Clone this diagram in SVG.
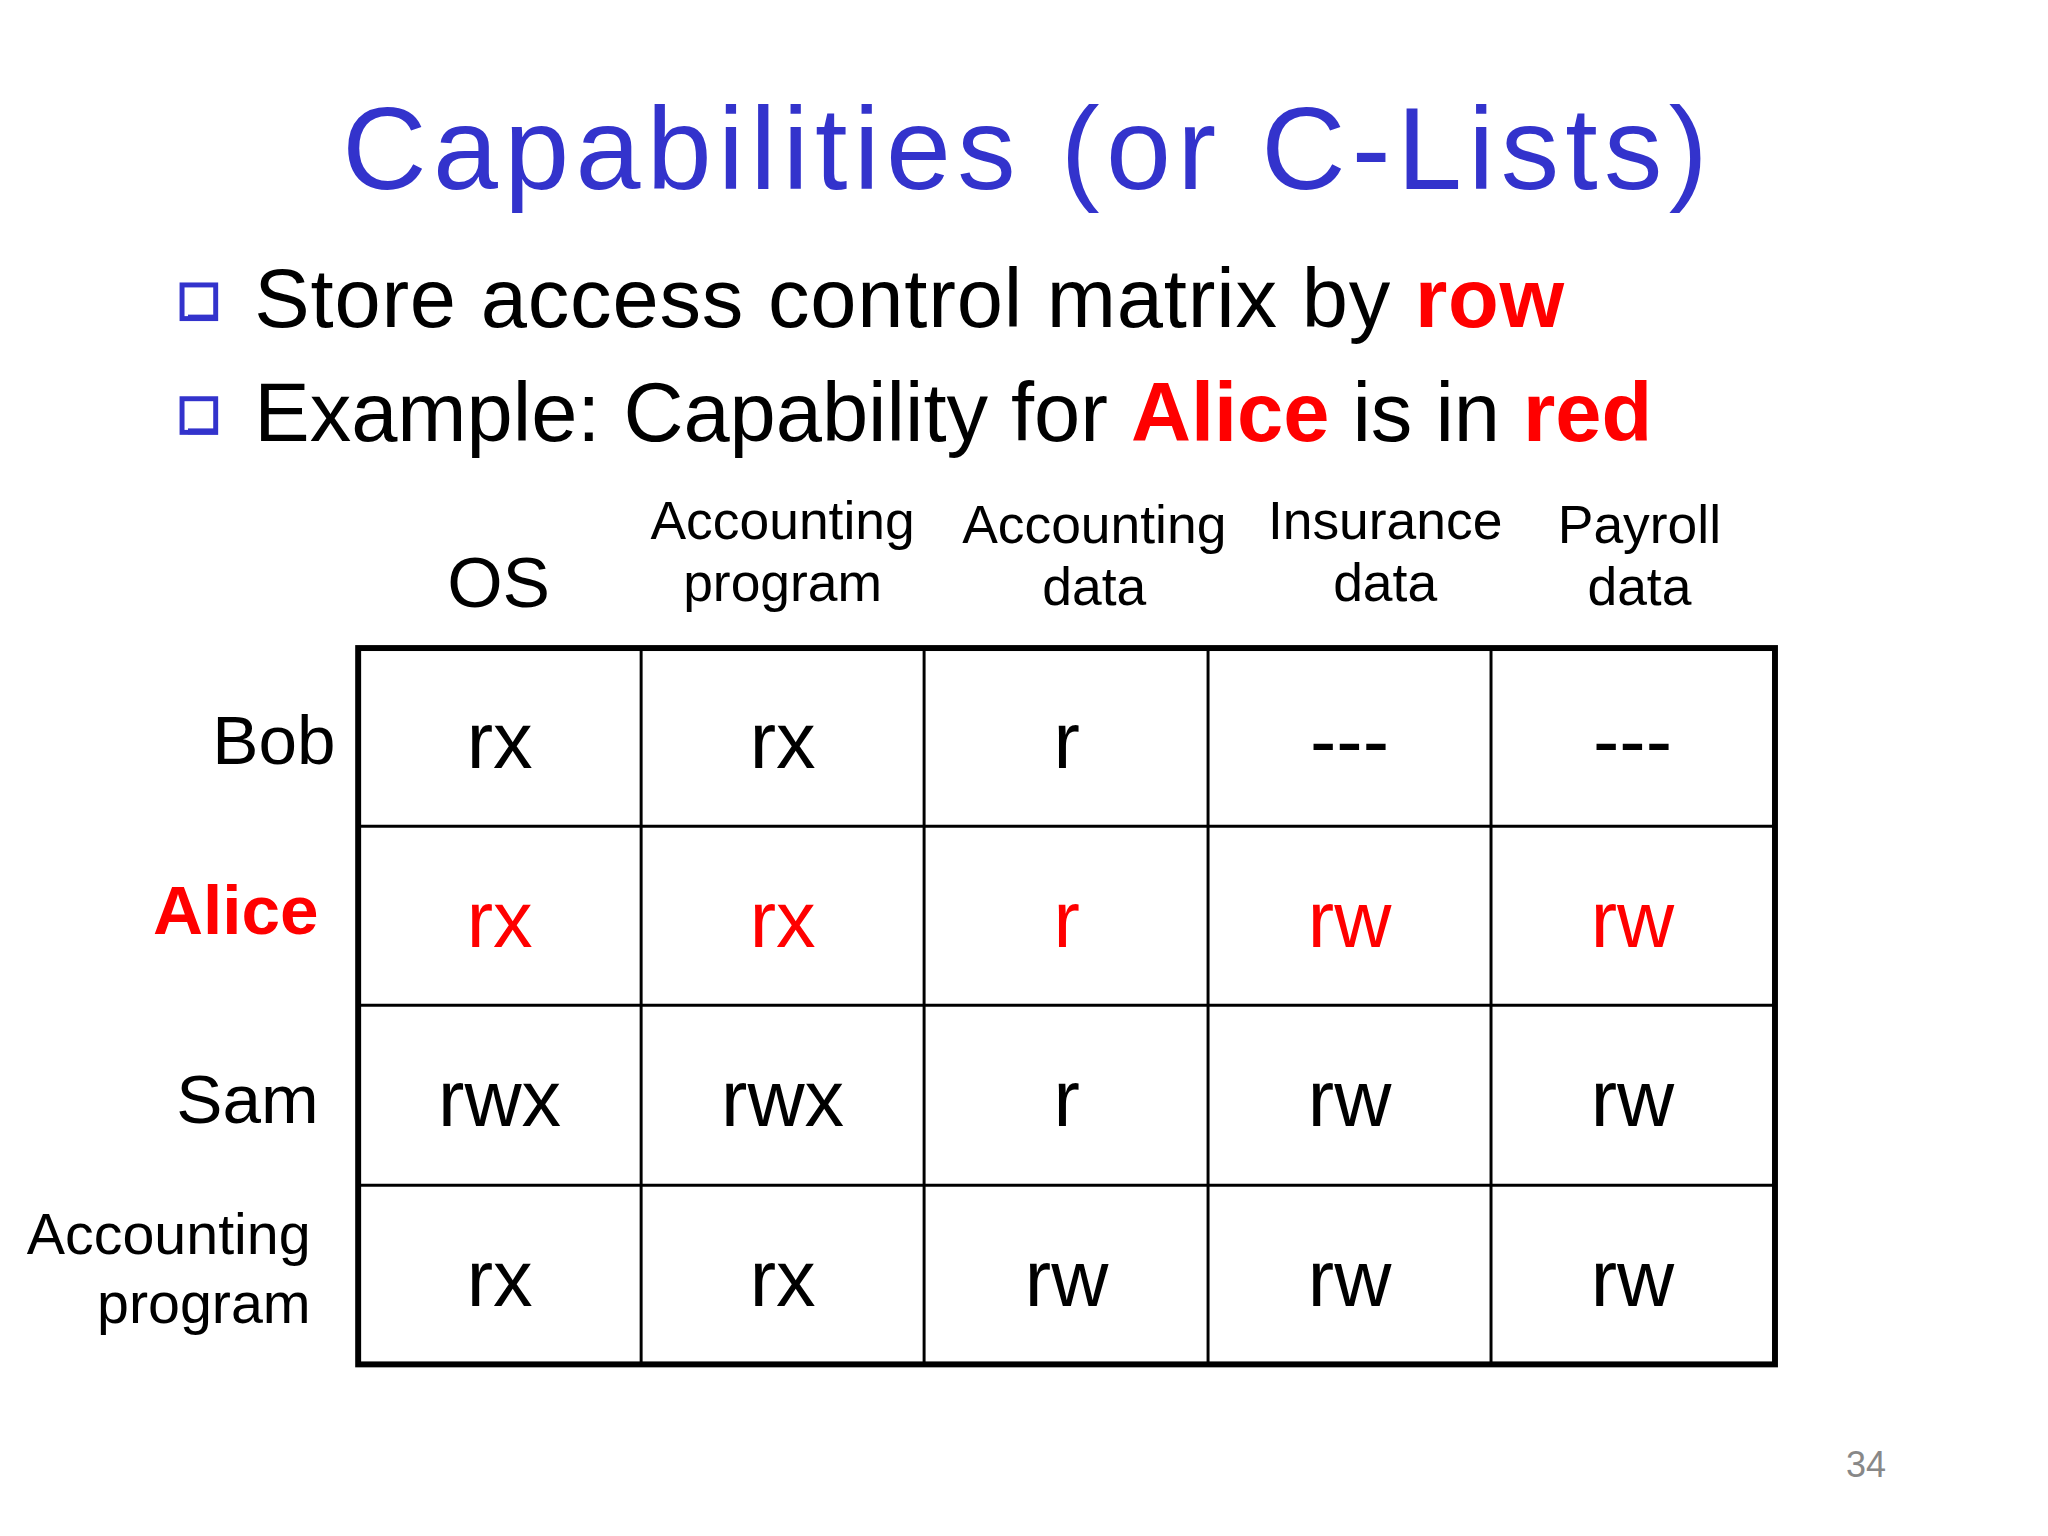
<svg xmlns="http://www.w3.org/2000/svg" width="2048" height="1536" viewBox="0 0 2048 1536">
<style>
text{font-family:"Liberation Sans",Arial,sans-serif;fill:#000}
.c{text-anchor:middle;font-size:80px}
.h{text-anchor:middle;font-size:54px}
.r{text-anchor:end;font-size:70px}
.red{fill:#ff0000}
.b{font-weight:bold}
.bul{fill:none;stroke:#3333cc;stroke-width:5}
line{stroke:#000;stroke-width:3}
</style>
<rect width="2048" height="1536" fill="#fff"/>
<g transform="scale(0.9894)">
<g id="title"><text x="1036" y="191" text-anchor="middle" font-size="118" style="fill:#3333cc" textLength="1380">Capabilities (or C-Lists)</text></g>
<g id="bullets">
<rect class="bul" x="184" y="288" width="34" height="34"/><rect x="190" y="318" width="30" height="6" fill="#3333cc"/>
<text x="257" y="330" font-size="84" textLength="1324">Store access control matrix by <tspan class="red b">row</tspan></text>
<rect class="bul" x="184" y="403" width="34" height="34"/><rect x="190" y="433" width="30" height="6" fill="#3333cc"/>
<text x="257" y="446" font-size="84" textLength="1413">Example: Capability for <tspan class="red b">Alice</tspan> is in <tspan class="red b">red</tspan></text>
</g>
<g id="headers">
<text x="504" y="614" text-anchor="middle" font-size="72">OS</text>
<text class="h" x="791" y="545">Accounting</text><text class="h" x="791" y="607">program</text>
<text class="h" x="1106" y="549">Accounting</text><text class="h" x="1106" y="611">data</text>
<text class="h" x="1400" y="545">Insurance</text><text class="h" x="1400" y="607">data</text>
<text class="h" x="1657" y="549">Payroll</text><text class="h" x="1657" y="611">data</text>
</g>
<g id="rowlabels">
<text class="r" x="339" y="772">Bob</text>
<text class="r red b" x="322" y="944">Alice</text>
<text class="r" x="322" y="1135">Sam</text>
<text x="314" y="1267" text-anchor="end" font-size="58">Accounting</text>
<text x="314" y="1337" text-anchor="end" font-size="58">program</text>
</g>
<g id="grid">
<rect x="362" y="655" width="1432" height="724" fill="none" stroke="#000" stroke-width="6"/>
<line x1="648" y1="655" x2="648" y2="1379"/><line x1="934" y1="655" x2="934" y2="1379"/>
<line x1="1221" y1="655" x2="1221" y2="1379"/><line x1="1507" y1="655" x2="1507" y2="1379"/>
<line x1="362" y1="835" x2="1794" y2="835"/><line x1="362" y1="1016" x2="1794" y2="1016"/><line x1="362" y1="1198" x2="1794" y2="1198"/>
</g>
<g id="cells">
<text class="c" x="505" y="776">rx</text><text class="c" x="791" y="776">rx</text><text class="c" x="1078" y="776">r</text><text class="c" x="1364" y="776">---</text><text class="c" x="1650" y="776">---</text>
<text class="c red" x="505" y="957">rx</text><text class="c red" x="791" y="957">rx</text><text class="c red" x="1078" y="957">r</text><text class="c red" x="1364" y="957">rw</text><text class="c red" x="1650" y="957">rw</text>
<text class="c" x="505" y="1138">rwx</text><text class="c" x="791" y="1138">rwx</text><text class="c" x="1078" y="1138">r</text><text class="c" x="1364" y="1138">rw</text><text class="c" x="1650" y="1138">rw</text>
<text class="c" x="505" y="1320">rx</text><text class="c" x="791" y="1320">rx</text><text class="c" x="1078" y="1320">rw</text><text class="c" x="1364" y="1320">rw</text><text class="c" x="1650" y="1320">rw</text>
</g>
</g>
<text x="1866" y="1477" text-anchor="middle" font-size="36" style="fill:#888">34</text>
</svg>
